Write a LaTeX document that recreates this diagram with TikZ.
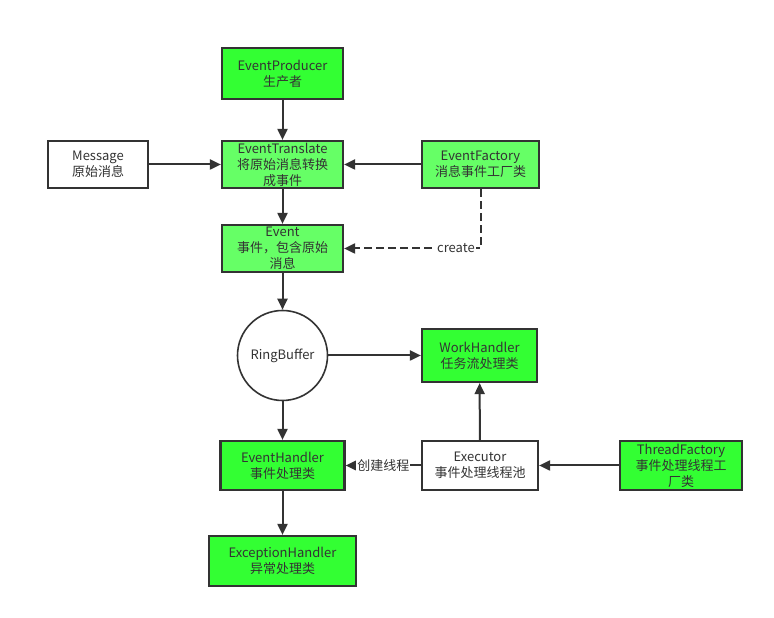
\documentclass[tikz,border=0pt]{standalone}
\usepackage{fontspec}
\setmainfont{Noto Sans CJK SC}
\usetikzlibrary{arrows.meta}
\usetikzlibrary{positioning}
\definecolor{hotgreen}{HTML}{33FF33}
\definecolor{softgreen}{HTML}{66FF66}
\definecolor{ink}{HTML}{333333}
\tikzset{->,>={Triangle[length=11pt,width=10pt]},node distance=2cm}
\tikzset{cls/.style={draw=ink,line width=2.2pt,align=center,text=ink,inner sep=0pt,
  font=\fontsize{13}{16}\selectfont}}

\begin{document}
\begin{tikzpicture}[color=ink,line width=2pt]
        \useasboundingbox (0,0) rectangle (774pt,618pt);
        \node[cls, fill=hotgreen, minimum width=121pt, minimum height=51pt] (prod) at (282.5pt,544.5pt) {EventProducer\\生产者};
        \node[cls, fill=softgreen, minimum width=121pt, minimum height=47pt, below of=prod, node distance=91pt] (trans) {EventTranslate\\将原始消息转换\\成事件};
        \node[cls, fill=white, minimum width=100pt, minimum height=47pt, left of=trans, node distance=184.5pt] (msg) {Message\\原始消息};
        \node[cls, fill=softgreen, minimum width=117pt, minimum height=47pt, right of=trans, node distance=198pt] (fact) {EventFactory\\消息事件工厂类};
        \node[cls, fill=softgreen, minimum width=121pt, minimum height=47pt, below of=trans, node distance=84pt] (event) {Event\\事件，包含原始\\消息};
        \node[cls, circle, fill=white, line width=1.6pt, minimum size=90pt, below of=event, node distance=107pt] (ring) {RingBuffer};
        \node[cls, fill=hotgreen, minimum width=115pt, minimum height=53pt, right of=ring, node distance=197pt] (work) {WorkHandler\\任务流处理类};
        \node[cls, fill=hotgreen, minimum width=124pt, minimum height=49pt, below of=ring, node distance=110pt] (evh) {EventHandler\\事件处理类};
        \node[cls, fill=white, minimum width=116pt, minimum height=49pt, right of=evh, node distance=197.5pt] (exec) {Executor\\事件处理线程池};
        \node[cls, fill=hotgreen, minimum width=122pt, minimum height=49pt, right of=exec, node distance=201pt] (tf) {ThreadFactory\\事件处理线程工\\厂类};
        \node[cls, fill=hotgreen, minimum width=147pt, minimum height=50pt, below of=evh, node distance=95.5pt] (exch) {ExceptionHandler\\异常处理类};
        \draw (prod) edge (trans)
        (msg) edge (trans)
        (fact) edge (trans)
        (trans) edge (event)
        (event) edge (ring)
        (ring) edge (work)
        (ring) edge (evh)
        (exec) edge (work)
        (tf) edge (exec)
        (exec) edge node[fill=white, inner sep=1pt, font=\fontsize{13}{16}\selectfont] {创建线程} (evh)
        (evh) edge (exch);
        \draw[dash pattern=on 8pt off 4pt] (fact.south) |- node[pos=0.59, fill=white, inner sep=1pt, font=\fontsize{13}{16}\selectfont] {create} (event.east);
    \end{tikzpicture}
\end{document}
